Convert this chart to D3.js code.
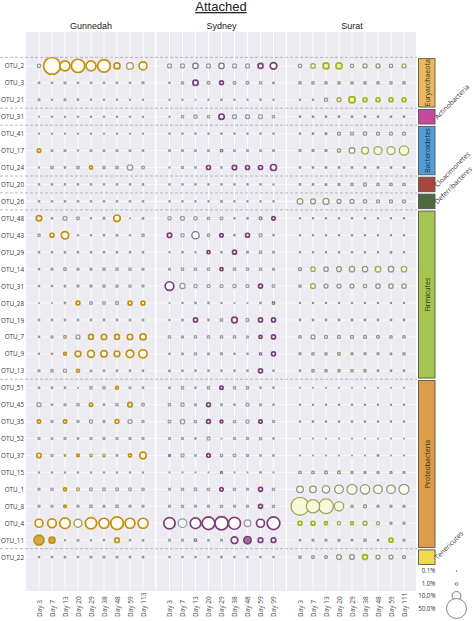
<!DOCTYPE html>
<html><head><meta charset="utf-8">
<script src="https://cdn.jsdelivr.net/npm/d3@7"></script>
<style>body{margin:0;background:#fff}svg{display:block}</style>
</head><body><svg id="c" width="474" height="621"></svg>
<script>
const rowLabels = ["OTU_2","OTU_3","OTU_21","OTU_31","OTU_41","OTU_17","OTU_24","OTU_20","OTU_26","OTU_48","OTU_43","OTU_29","OTU_14","OTU_31","OTU_28","OTU_19","OTU_7","OTU_9","OTU_13","OTU_51","OTU_45","OTU_35","OTU_52","OTU_37","OTU_15","OTU_1","OTU_8","OTU_4","OTU_11","OTU_22"];
const sites = ["Gunnedah","Sydney","Surat"];
const gunnedahDays = ["Day 3","Day 7","Day 13","Day 20","Day 29","Day 38","Day 48","Day 59","Day 113"];
const sydneyDays = ["Day 3","Day 7","Day 13","Day 20","Day 29","Day 38","Day 48","Day 59","Day 99"];
const suratDays = ["Day 3","Day 7","Day 13","Day 20","Day 29","Day 38","Day 48","Day 59","Day 111"];

// relative abundance (%)
const gunnedahValues = [
[1.4,35,12.5,22,12.5,20,4.5,5.5,8],
[0.4,0.3,0.5,0.3,0.3,0.3,0.3,0.3,0.6],
[0.5,0.2,0.5,0.3,0.2,0.2,0.2,0.2,0.2],
[0.1,0.2,0.2,0.2,0.2,0.2,0.2,0.2,0.2],
[0.15,0.15,0.15,0.15,0.15,0.15,0.15,0.15,0.15],
[1.5,0.5,0.5,0.2,0.5,0.5,0.5,0.5,0.4],
[0.2,0.8,0.3,0.8,1.2,0.8,0.8,3.6,1.0],
[0.25,0.25,0.25,0.25,0.25,0.25,0.25,0.25,0.3],
[0.3,0.3,0.3,0.3,0.3,0.3,0.3,0.3,0.3],
[3.6,0.3,2,1.0,0.2,0.6,5.5,0.1,0.4],
[0.8,2,6.7,0.2,0.2,0.3,0.4,0.2,0.8],
[0.3,0.3,0.4,0.3,0.3,0.3,0.3,0.3,0.3],
[0.3,0.5,1.0,0.6,0.6,0.8,0.8,0.8,0.6],
[0.3,0.3,0.4,0.6,0.6,0.8,0.8,0.8,0.6],
[0.1,0.1,0.3,1.8,1.0,1.0,1.2,2,2],
[0.3,0.3,0.3,0.3,0.3,0.3,0.3,0.4,0.4],
[0.3,0.6,1.0,2,3,3.6,3,3.6,4.5],
[0.2,0.3,1.0,4,6,5.5,4,7,8.5],
[0.6,0.8,1.4,1.2,0.4,0.3,0.3,0.3,0.3],
[0.4,0.3,0.3,0.1,0.8,0.8,1.0,0.4,0.3],
[2,0.3,0.6,0.8,1.4,0.3,0.8,2.5,1.0],
[1.4,0.6,1.4,0.6,1.4,0.6,1.8,2,0.6],
[0.6,0.4,0.6,0.3,0.6,0.6,0.6,0.6,0.6],
[2.5,0.6,0.3,0.8,0.8,0.8,0.3,1.2,5.5],
[0.2,0.2,0.2,0.2,0.2,0.2,0.2,0.2,0.2],
[0.6,0.8,1.2,1.0,1.0,1.0,1.0,1.0,0.8],
[0.6,0.6,0.8,0.6,1.0,0.6,1.0,0.6,0.6],
[8,9.4,14,8,16,12.5,20,12.5,12.5],
[12.5,4.5,0.2,0.4,0.2,0.3,2.7,0.3,0.4],
[0.3,0.3,0.4,0.3,0.6,0.6,0.6,0.4,0.4]];
const sydneyValues = [
[2,2,3.6,2,3.6,2,2,3,5.5],
[0.3,0.8,3.6,1.0,1.8,1.0,1.0,0.8,0.4],
[0.2,0.2,0.1,0.2,0.4,0.2,0.2,0.3,0.2],
[0.2,0.8,1.4,0.8,3.6,2,2,2,0.8],
[0.2,0.2,0.2,0.2,0.3,0.2,0.2,0.2,0.2],
[0.5,0.5,0.5,0.5,0.8,0.5,0.5,0.5,0.5],
[0.2,0.6,0.3,2,0.3,2.5,2,2,4.5],
[0.25,0.25,0.25,0.25,0.25,0.25,0.25,0.25,0.2],
[0.2,0.2,0.2,0.2,0.4,0.2,0.2,0.2,0.2],
[1.4,2,1.5,0.8,1.0,0.3,0.4,1.0,1.5],
[2.5,1.4,6.7,0.8,1.5,0.3,2,1.2,0.3],
[0.2,0.3,0.2,1.2,0.3,2,0.5,0.8,0.5],
[0.5,0.8,0.8,0.8,1.2,0.8,0.8,0.8,0.6],
[9.5,3.6,1.4,1.2,1.2,1.4,1.2,2,1.0],
[0.1,0.2,0.3,0.3,0.2,0.1,0.1,0.3,0.8],
[0.2,0.4,2,0.3,0.8,4,1.2,2,2],
[0.8,0.6,0.8,0.8,0.8,0.8,0.6,1.2,2],
[0.3,0.5,0.8,0.5,0.6,0.3,0.3,0.8,2],
[0.5,0.3,0.3,0.3,0.3,0.3,0.3,2,0.3],
[0.4,0.8,0.3,0.8,1.4,0.8,0.8,0.3,0.3],
[0.8,1.4,0.6,1.8,0.4,0.3,1.2,0.6,0.3],
[1.0,2.5,0.8,1.8,1.0,0.8,1.4,1.4,0.6],
[0.6,0.6,0.3,1.2,0.1,0.6,0.6,0.8,0.3],
[0.5,1.2,0.3,1.6,0.8,1.0,0.6,0.3,0.3],
[0.1,0.1,0.1,0.1,0.6,0.1,0.1,0.3,0.1],
[0.6,0.8,1.0,0.8,1.5,0.8,0.6,2,0.8],
[0.6,0.8,0.6,0.6,0.8,0.6,0.6,2,0.8],
[16,9.4,14,20,22,18,5.5,8,20],
[0.6,0.6,0.8,0.4,0.5,5.5,6.7,2.7,2.7],
[0.3,0.3,0.3,0.3,0.4,0.3,0.3,0.3,0.3]];
const suratValues = [
[1.4,2.5,4.5,4.5,1.4,2,2,1.4,2],
[0.8,0.8,0.8,0.8,0.8,0.8,0.8,0.8,0.8],
[0.2,0.2,1.4,2,5,2,2,2,2],
[0.3,0.3,0.3,0.3,0.3,0.3,0.3,0.3,0.3],
[0.2,0.3,0.4,1.2,1.2,1.5,1.2,1.2,1.2],
[0.6,0.6,0.6,1.4,4,6,8,8,11],
[0.3,0.3,0.3,0.3,0.3,0.3,0.3,0.3,0.3],
[0.3,0.3,0.4,0.6,0.8,1.2,0.8,0.8,0.8],
[4,3,4.5,2,2,1.5,1.2,1.2,1.2],
[0.2,0.2,0.2,0.2,0.2,0.2,0.2,0.2,0.2],
[0.2,0.2,0.2,0.2,0.2,0.2,0.2,0.2,0.2],
[0.2,0.2,0.2,0.2,0.2,0.2,0.2,0.4,0.2],
[1.2,2.5,2.5,3,3.6,3.6,4,3.6,3.6],
[0.8,3,2,2,2,1.5,2.5,2.5,2.5],
[0.2,0.2,0.2,0.2,0.2,0.2,0.2,0.2,0.2],
[0.3,0.3,0.3,0.3,0.3,0.3,0.3,0.3,0.3],
[0.8,2,1.2,1.2,1.2,1.2,1.0,0.8,0.8],
[0.6,0.8,0.8,1.0,0.6,0.6,0.6,0.4,0.8],
[0.3,0.8,0.8,0.8,0.8,0.8,0.3,0.3,0.3],
[0.1,0.1,0.1,0.1,0.1,0.1,0.1,0.1,0.1],
[0.2,0.2,0.2,0.2,0.2,0.2,0.2,0.2,0.2],
[0.2,0.3,0.2,0.2,0.3,0.2,0.2,0.2,0.2],
[0.1,0.1,0.1,0.1,0.1,0.1,0.1,0.1,0.1],
[0.1,0.1,0.1,0.1,0.1,0.1,0.3,0.1,0.1],
[0.8,0.8,1.0,1.0,0.6,0.6,0.6,0.6,0.5],
[5.5,5.5,6.8,9.3,12.5,11,9.3,9.3,12.5],
[40,22,27,11,0.8,1.2,0.6,0.6,0.6],
[2,2,1.2,1.4,1.2,2,1.4,0.6,0.6],
[0.3,0.5,0.5,0.6,0.3,0.8,0.3,2,0.5],
[0.8,1.0,1.0,3,3,3,2,2,1.2]];

// colour emphasis per cell: 0 grey, 1 muted, 2 site colour, 3 filled
const gunnedahTones = ["022222212","000000000","000000000","000000000","000000000","200000000","000020000","000000000","000000000","200000200","022000000","000000000","000000000","000000000","000200022","000000000","001022222","002222222","000200000","000000200","000020020","202000200","000000000","201211022","000000000","002100000","002000000","222122222","330000200","000000000"];
const sydneyTones = ["001010022","002020000","000000000","000020000","000000000","000010000","000202222","000000000","000000000","000000012","201020200","000202000","000020000","200000020","000000001","002002022","000000022","000000012","000000020","000020000","000200000","000220020","000000000","100200000","000010000","000020020","000000020","202222022","001002322","000000000"];
const suratTones = ["012200001","000000000","000122222","000000000","000000000","000001111","000000000","000000000","000000000","000000000","000000000","000000000","010000101","010000000","000000000","000000000","000000000","000000000","000000000","000000000","000000000","000000000","000000000","000000000","000000000","000000000","111100000","222121100","000000020","000002000"];

const phyla = ["Euryarchaeota","Actinobacteria","Bacteroidetes","Cloacimonetes","Deferribacteres","Firmicutes","Proteobacteria","Tenericutes"];
const phylumCounts = [3,1,3,1,1,10,10,1];
const phylumColors = ["#e9b95b","#c9489b","#4f9dda","#a9453b","#4d6b3d","#a5c54f","#dd9c45","#f1d94d"];
const phylumInside = [true,false,true,false,false,true,true,false];

const legendValues = [0.1,1,10,50];
const legendLabels = ["0.1%","1.0%","10.0%","50.0%"];

const siteColors = ["#c68e0e","#7c3d79","#a3b31b"];
const siteFills = ["#fffdf2","#ffffff","#f1f3b4"];
const siteDays = [gunnedahDays, sydneyDays, suratDays];
const siteValues = [gunnedahValues, sydneyValues, suratValues];
const siteTones = [gunnedahTones, sydneyTones, suratTones];

const svg = d3.select("#c");
const yTop = 32, yBottom = 591, panelW = 130, panelX = [26,156.5,287];

const y = d3.scalePoint().domain(d3.range(rowLabels.length)).range([yTop,yBottom]).padding(2);
const step = y.step();
const r = d3.scaleSqrt().domain([0,50]).range([0,10]);
const grey = "#9a9aa2";

svg.append("text").attr("x",221).attr("y",11).attr("text-anchor","middle")
  .attr("font-family","Liberation Sans, Arial, sans-serif").attr("font-size",13).attr("fill","#222")
  .attr("text-decoration","underline").text("Attached");

sites.forEach((site,si)=>{
  const x0 = panelX[si];
  const x = d3.scalePoint().domain(d3.range(9)).range([x0,x0+panelW]).padding(1);
  const g = svg.append("g");
  g.append("rect").attr("x",x0).attr("y",yTop).attr("width",panelW-1).attr("height",yBottom-yTop).attr("fill","#ebebf1");
  g.selectAll("line.v").data(d3.range(9)).join("line")
    .attr("x1",d=>x(d)).attr("x2",d=>x(d)).attr("y1",yTop).attr("y2",yBottom)
    .attr("stroke","#fff").attr("stroke-width",0.9);
  g.selectAll("line.h").data(d3.range(rowLabels.length)).join("line")
    .attr("x1",x0).attr("x2",x0+panelW-1).attr("y1",d=>y(d)).attr("y2",d=>y(d))
    .attr("stroke","#fff").attr("stroke-width",0.7);
  svg.append("text").attr("x",x0+panelW/2).attr("y",29).attr("text-anchor","middle")
    .attr("font-family","Liberation Sans, Arial, sans-serif").attr("font-size",9).attr("fill","#222").text(site);
  const xa = d3.scalePoint().domain(siteDays[si]).range([x0,x0+panelW]).padding(1);
  const ax = svg.append("g").attr("transform",`translate(0,${yBottom})`)
    .call(d3.axisBottom(xa).tickSize(0));
  ax.select(".domain").remove();
  ax.selectAll("text").attr("font-family","Open Sans, sans-serif").attr("font-size",6.5).attr("fill","#444")
    .attr("x",0).attr("y",0).attr("dy","0.35em").attr("text-anchor","start")
    .attr("transform","translate(0,26) rotate(-90)");
  const cells = [];
  siteValues[si].forEach((row,ri)=>row.forEach((v,ci)=>cells.push({ri,ci,v,t:+siteTones[si][ri][ci]})));
  cells.sort((a,b)=>b.v-a.v);
  const col = siteColors[si];
  g.selectAll("circle").data(cells).join("circle")
    .attr("cx",d=>x(d.ci)).attr("cy",d=>y(d.ri)).attr("r",d=>r(d.v))
    .attr("fill",d=>{
      if(d.t===3) return d3.interpolateRgb("#ffffff",col)(0.75);
      if(d.t===2) return siteFills[si];
      if(d.t===1) return d3.interpolateRgb("#ffffff",siteFills[si])(0.5);
      return si===2 && d.v>3 ? "#fbfbee" : "#f6f6f9";
    })
    .attr("stroke",d=>d.t>=2?col:(d.t===1?d3.interpolateRgb(grey,col)(0.5):(si===2?"#95957f":grey)))
    .attr("stroke-width",d=>d.t>=2?1.7:1.3);
});

const ya = d3.scalePoint().domain(rowLabels.map((d,i)=>i)).range([yTop,yBottom]).padding(2);
const ay = svg.append("g").attr("transform","translate(24,0)")
  .call(d3.axisLeft(ya).tickSize(0).tickPadding(0).tickFormat(i=>rowLabels[i]));
ay.select(".domain").remove();
ay.selectAll("text").attr("font-family","Open Sans, sans-serif").attr("font-size",6.3).attr("fill","#333");

let start = 0;
const groups = phyla.map((p,i)=>{const gr={name:p,start,end:start+phylumCounts[i]-1,color:phylumColors[i],inside:phylumInside[i]}; start+=phylumCounts[i]; return gr;});
svg.selectAll("line.sep").data(groups).join("line")
  .attr("x1",0).attr("x2",417).attr("y1",d=>y(d.start)-step/2).attr("y2",d=>y(d.start)-step/2)
  .attr("stroke","#a8a8ae").attr("stroke-width",0.8).attr("stroke-dasharray","3,2");
svg.selectAll("rect.ph").data(groups).join("rect")
  .attr("x",418.5).attr("width",16.5)
  .attr("y",d=>y(d.start)-step/2+1.2).attr("height",d=>y(d.end)-y(d.start)+step-2.4)
  .attr("fill",d=>d.color).attr("stroke","#555").attr("stroke-width",0.9);
groups.forEach(d=>{
  const cy = (y(d.start)+y(d.end))/2;
  if(d.inside){
    svg.append("text").attr("transform",`translate(429.5,${cy}) rotate(-90)`).attr("text-anchor","middle")
      .attr("font-family","Open Sans, sans-serif").attr("font-size",7).attr("fill","#2a2a2a").text(d.name);
  } else {
    svg.append("text").attr("transform",`translate(437.5,${cy+3}) rotate(-45)`).attr("text-anchor","start")
      .attr("font-family","Open Sans, sans-serif").attr("font-size",6.8).attr("fill","#333").text(d.name);
  }
});

const ly2 = [571,584,596,608.5];
svg.selectAll("text.leg").data(legendLabels).join("text")
  .attr("x",435.5).attr("y",(d,i)=>ly2[i]).attr("dy","0.35em").attr("text-anchor","end")
  .attr("font-family","Open Sans, sans-serif").attr("font-size",6.2).attr("fill","#333").text(d=>d);
svg.selectAll("circle.leg").data(legendValues).join("circle")
  .attr("cx",456.5).attr("cy",(d,i)=>ly2[i]).attr("r",d=>r(d))
  .attr("fill","#fff").attr("stroke","#666").attr("stroke-width",0.8);
</script></body></html>
